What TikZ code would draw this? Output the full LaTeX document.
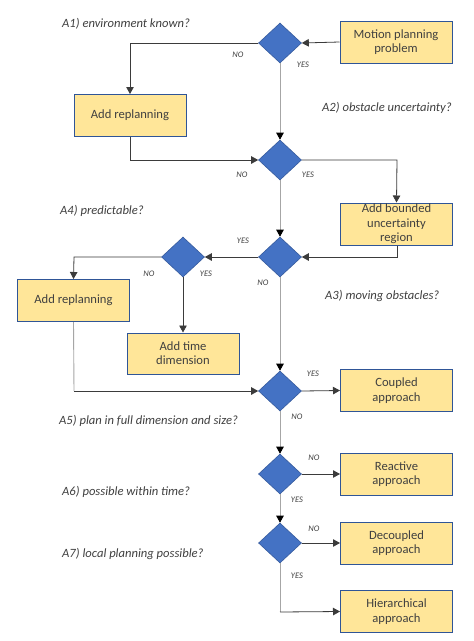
\documentclass[tikz,border=0pt]{standalone}
\usepackage{fontspec}
\setmainfont{Carlito}
\usetikzlibrary{shapes.geometric,arrows.meta}
\definecolor{boxfill}{HTML}{FFE699}
\definecolor{boxdraw}{HTML}{2F5597}
\definecolor{dfill}{HTML}{4472C4}
\definecolor{dline}{HTML}{3B3B3B}
\definecolor{gline}{HTML}{A6A6A6}
\definecolor{txt}{HTML}{404040}
\tikzset{
  stepbox/.style={draw=boxdraw,line width=1pt,fill=boxfill,minimum width=112pt,minimum height=42pt,inner sep=1pt,align=center,font=\fontsize{12.6}{14.3}\selectfont,text=txt},
  dec/.style={diamond,draw=dfill!80!black,line width=0.6pt,fill=dfill,minimum width=43pt,minimum height=40pt,inner sep=0pt},
  arr/.style={draw=dline,line width=0.8pt,-{Triangle[length=7pt,width=7.5pt]}},
  garr/.style={draw=gline,line width=0.9pt,-{Triangle[length=7pt,width=7.5pt,color=black]}},
  qlab/.style={anchor=west,inner sep=0pt,font=\fontsize{12.6}{14}\itshape,text=txt},
  yn/.style={inner sep=0pt,font=\fontsize{8.5}{9}\itshape,text=txt}
}
\begin{document}
\begin{tikzpicture}[x=1pt,y=-1pt]
\useasboundingbox[fill=white] (0,0) rectangle (474,641);
% diamonds
\node[dec] (d1) at (280,43) {};
\node[dec] (d2) at (280,160) {};
\node[dec] (d3) at (280,257) {};
\node[dec] (d4) at (183,257) {};
\node[dec] (d5) at (280,391) {};
\node[dec] (d6) at (280,474) {};
\node[dec] (d7) at (280,543) {};
% boxes
\node[stepbox] (mpp) at (396,42) {Motion planning\\problem};
\node[stepbox] (rep1) at (130,115.5) {Add replanning};
\node[stepbox] (bnd) at (396.5,224) {Add bounded\\uncertainty\\region};
\node[stepbox] (rep2) at (73.5,300.5) {Add replanning};
\node[stepbox,minimum height=41pt] (time) at (183,353.5) {Add time\\dimension};
\node[stepbox] (coup) at (396.5,390.5) {Coupled\\approach};
\node[stepbox] (reac) at (396.5,474) {Reactive\\approach};
\node[stepbox] (deco) at (396.5,543) {Decoupled\\approach};
\node[stepbox] (hier) at (396.5,611.5) {Hierarchical\\approach};
% helper coordinates
\coordinate (c1) at (130,43);
\coordinate (c2) at (130,160);
\coordinate (c3) at (397,160);
\coordinate (c4) at (397,257);
\coordinate (c5) at (74,257);
\coordinate (c6) at (74,391);
\coordinate (c7) at (280,612);
% connectors
\draw[arr] (mpp.west) -- (d1.east);
\draw[arr] (d1.west) -- (c1) -- (rep1.north);
\draw[garr] (d1.south) -- (d2.north);
\draw[arr] (rep1.south) -- (c2) -- (d2.west);
\draw[arr] (d2.east) -- (c3) -- (bnd.north);
\draw[arr] (bnd.south -| c4) -- (c4) -- (d3.east);
\draw[garr] (d2.south) -- (d3.north);
\draw[arr] (d3.west) -- (d4.east);
\draw[arr] (d4.west) -- (c5) -- (rep2.north);
\draw[arr] (d4.south) -- (time.north);
\draw[gline,line width=0.9pt] (rep2.south) -- (c6);
\draw[arr] (c6) -- (d5.west);
\draw[garr] (d3.south) -- (d5.north);
\draw[arr] (d5.east) -- (coup.west);
\draw[garr] (d5.south) -- (d6.north);
\draw[arr] (d6.east) -- (reac.west);
\draw[garr] (d6.south) -- (d7.north);
\draw[arr] (d7.east) -- (deco.west);
\draw[gline,line width=0.9pt] (d7.south) -- (c7);
\draw[arr] (c7) -- (hier.west);
% question labels
\node[qlab] (q1) at (62,24) {A1) environment known?};
\node[qlab] (q2) at (322,108) {A2) obstacle uncertainty?};
\node[qlab] (q4) at (60,211) {A4) predictable?};
\node[qlab] (q3) at (325,296) {A3) moving obstacles?};
\node[qlab] (q5) at (59,421) {A5) plan in full dimension and size?};
\node[qlab] (q6) at (62,492) {A6) possible within time?};
\node[qlab] (q7) at (62,554) {A7) local planning possible?};
% yes/no labels
\node[yn] (n1) at (238,55) {NO};
\node[yn] (y1) at (303,65) {YES};
\node[yn] (n2) at (242,175) {NO};
\node[yn] (y2) at (308,175) {YES};
\node[yn] (y3) at (243,241) {YES};
\node[yn] (n3) at (263,283) {NO};
\node[yn] (n4) at (149,274) {NO};
\node[yn] (y4) at (206,274) {YES};
\node[yn] (y5) at (313,374) {YES};
\node[yn] (n5) at (297,417) {NO};
\node[yn] (n6) at (314,458) {NO};
\node[yn] (y6) at (297,500) {YES};
\node[yn] (n7) at (314,529) {NO};
\node[yn] (y7) at (297,576) {YES};
\end{tikzpicture}
\end{document}
